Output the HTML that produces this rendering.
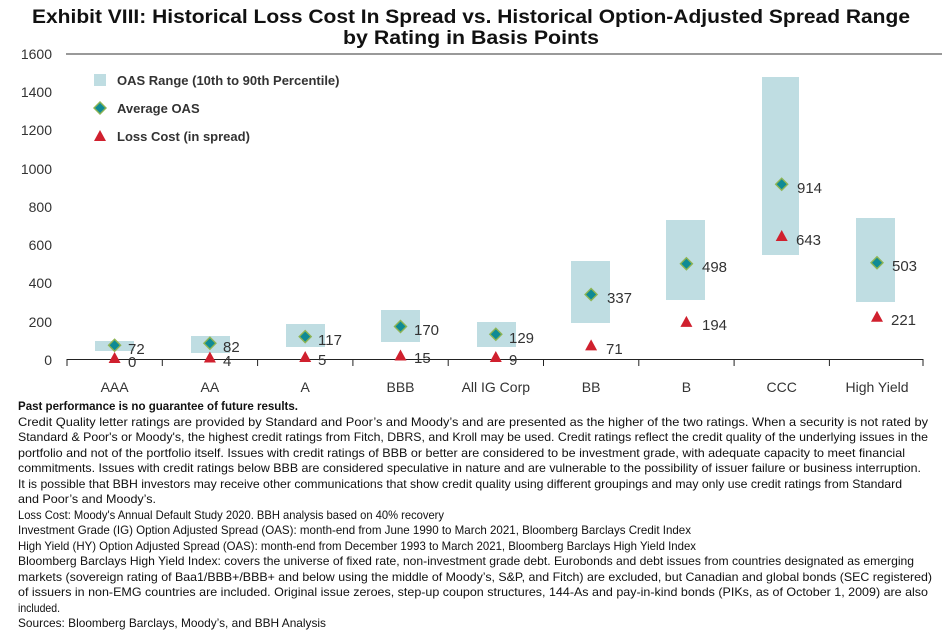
<!DOCTYPE html>
<html><head><meta charset="utf-8"><style>
html,body{margin:0;padding:0;background:#fff;}
svg{display:block;}
</style></head><body>
<svg width="942" height="639" viewBox="0 0 942 639" xmlns="http://www.w3.org/2000/svg" font-family="'Liberation Sans', sans-serif">
<defs>
<g id="dm"><path d="M0,-7 L7,0 L0,7 L-7,0 Z" fill="#8db454"/><path d="M0,-5 L5,0 L0,5 L-5,0 Z" fill="#0f8a95"/></g>
<path id="tr" d="M0,-6 L6,5 L-6,5 Z" fill="#d0202e"/>
</defs>
<text x="471" y="23" text-anchor="middle" font-size="19" font-weight="bold" textLength="878" lengthAdjust="spacingAndGlyphs" fill="#111">Exhibit VIII: Historical Loss Cost In Spread vs. Historical Option-Adjusted Spread Range</text>
<text x="471" y="44" text-anchor="middle" font-size="19" font-weight="bold" textLength="256" lengthAdjust="spacingAndGlyphs" fill="#111">by Rating in Basis Points</text>
<line x1="66" y1="54" x2="942" y2="54" stroke="#333" stroke-width="1"/>
<g font-size="14" fill="#333" text-anchor="end">
<text x="52" y="59">1600</text><text x="52" y="97">1400</text><text x="52" y="135">1200</text><text x="52" y="174">1000</text><text x="52" y="212">800</text><text x="52" y="250">600</text><text x="52" y="288">400</text><text x="52" y="327">200</text><text x="52" y="365">0</text>
</g>
<rect x="94" y="74" width="12" height="12" fill="#bfdde2"/>
<use href="#dm" x="100" y="108"/>
<use href="#tr" x="100" y="136"/>
<g font-size="13" font-weight="bold" fill="#333">
<text x="117" y="85">OAS Range (10th to 90th Percentile)</text>
<text x="117" y="113">Average OAS</text>
<text x="117" y="141">Loss Cost (in spread)</text>
</g>
<g fill="#bfdde2">
<rect x="95" y="341" width="39" height="10"/><rect x="191" y="336" width="39" height="17"/><rect x="286" y="324" width="39" height="23"/><rect x="381" y="310" width="39" height="32"/><rect x="477" y="322" width="39" height="25"/><rect x="571" y="261" width="39" height="62"/><rect x="666" y="220" width="39" height="80"/><rect x="762" y="77" width="37" height="178"/><rect x="856" y="218" width="39" height="84"/>
</g>
<line x1="67" y1="359.5" x2="923" y2="359.5" stroke="#222"/>
<g stroke="#222"><line x1="67" y1="359" x2="67" y2="366"/><line x1="162.3" y1="359" x2="162.3" y2="366"/><line x1="257.6" y1="359" x2="257.6" y2="366"/><line x1="352.9" y1="359" x2="352.9" y2="366"/><line x1="448.2" y1="359" x2="448.2" y2="366"/><line x1="543.5" y1="359" x2="543.5" y2="366"/><line x1="638.8" y1="359" x2="638.8" y2="366"/><line x1="734.1" y1="359" x2="734.1" y2="366"/><line x1="829.4" y1="359" x2="829.4" y2="366"/><line x1="923" y1="359" x2="923" y2="366"/></g>
<use href="#dm" x="114.6" y="345.2"/><use href="#dm" x="209.9" y="343.3"/><use href="#dm" x="305.2" y="336.6"/><use href="#dm" x="400.5" y="326.5"/><use href="#dm" x="495.8" y="334.3"/><use href="#dm" x="591.1" y="294.5"/><use href="#dm" x="686.4" y="263.8"/><use href="#dm" x="781.7" y="184.2"/><use href="#dm" x="877" y="262.8"/>
<use href="#tr" x="114.6" y="358"/><use href="#tr" x="209.9" y="357.5"/><use href="#tr" x="305.2" y="357"/><use href="#tr" x="400.5" y="355.5"/><use href="#tr" x="495.8" y="357"/><use href="#tr" x="591.1" y="345.4"/><use href="#tr" x="686.4" y="321.9"/><use href="#tr" x="781.7" y="236"/><use href="#tr" x="877" y="316.7"/>
<g font-size="15" fill="#333">
<text x="128" y="354">72</text><text x="223" y="352">82</text><text x="318" y="345">117</text><text x="414" y="335">170</text><text x="509" y="343">129</text><text x="607" y="303">337</text><text x="702" y="272">498</text><text x="797" y="193">914</text><text x="892" y="271">503</text>
<text x="128" y="367">0</text><text x="223" y="366">4</text><text x="318" y="365">5</text><text x="414" y="363">15</text><text x="509" y="365">9</text><text x="606" y="354">71</text><text x="702" y="330">194</text><text x="796" y="245">643</text><text x="891" y="325">221</text>
</g>
<g font-size="14" fill="#333" text-anchor="middle">
<text x="114.6" y="392">AAA</text><text x="209.9" y="392">AA</text><text x="305.2" y="392">A</text><text x="400.5" y="392">BBB</text><text x="495.8" y="392">All IG Corp</text><text x="591.1" y="392">BB</text><text x="686.4" y="392">B</text><text x="781.7" y="392">CCC</text><text x="877" y="392">High Yield</text>
</g>
<g font-size="12" fill="#111" lengthAdjust="spacingAndGlyphs">
<text x="18" y="410" font-weight="bold" textLength="280" lengthAdjust="spacingAndGlyphs">Past performance is no guarantee of future results.</text>
<text x="18" y="426" textLength="910" lengthAdjust="spacingAndGlyphs">Credit Quality letter ratings are provided by Standard and Poor’s and Moody’s and are presented as the higher of the two ratings. When a security is not rated by</text>
<text x="18" y="441" textLength="910" lengthAdjust="spacingAndGlyphs">Standard &amp; Poor's or Moody's, the highest credit ratings from Fitch, DBRS, and Kroll may be used. Credit ratings reflect the credit quality of the underlying issues in the</text>
<text x="18" y="457" textLength="887" lengthAdjust="spacingAndGlyphs">portfolio and not of the portfolio itself. Issues with credit ratings of BBB or better are considered to be investment grade, with adequate capacity to meet financial</text>
<text x="18" y="472" textLength="903" lengthAdjust="spacingAndGlyphs">commitments. Issues with credit ratings below BBB are considered speculative in nature and are vulnerable to the possibility of issuer failure or business interruption.</text>
<text x="18" y="488" textLength="884" lengthAdjust="spacingAndGlyphs">It is possible that BBH investors may receive other communications that show credit quality using different groupings and may only use credit ratings from Standard</text>
<text x="18" y="503" textLength="138" lengthAdjust="spacingAndGlyphs">and Poor’s and Moody’s.</text>
<text x="18" y="519" textLength="426" lengthAdjust="spacingAndGlyphs">Loss Cost: Moody's Annual Default Study 2020. BBH analysis based on 40% recovery</text>
<text x="18" y="534" textLength="673" lengthAdjust="spacingAndGlyphs">Investment Grade (IG) Option Adjusted Spread (OAS): month-end from June 1990 to March 2021, Bloomberg Barclays Credit Index</text>
<text x="18" y="550" textLength="678" lengthAdjust="spacingAndGlyphs">High Yield (HY) Option Adjusted Spread (OAS): month-end from December 1993 to March 2021, Bloomberg Barclays High Yield Index</text>
<text x="18" y="565" textLength="896" lengthAdjust="spacingAndGlyphs">Bloomberg Barclays High Yield Index: covers the universe of fixed rate, non-investment grade debt. Eurobonds and debt issues from countries designated as emerging</text>
<text x="18" y="581" textLength="914" lengthAdjust="spacingAndGlyphs">markets (sovereign rating of Baa1/BBB+/BBB+ and below using the middle of Moody’s, S&amp;P, and Fitch) are excluded, but Canadian and global bonds (SEC registered)</text>
<text x="18" y="596" textLength="910" lengthAdjust="spacingAndGlyphs">of issuers in non-EMG countries are included. Original issue zeroes, step-up coupon structures, 144-As and pay-in-kind bonds (PIKs, as of October 1, 2009) are also</text>
<text x="18" y="612" textLength="42" lengthAdjust="spacingAndGlyphs">included.</text>
<text x="18" y="627" textLength="308" lengthAdjust="spacingAndGlyphs">Sources: Bloomberg Barclays, Moody’s, and BBH Analysis</text>
</g>
</svg>
</body></html>
